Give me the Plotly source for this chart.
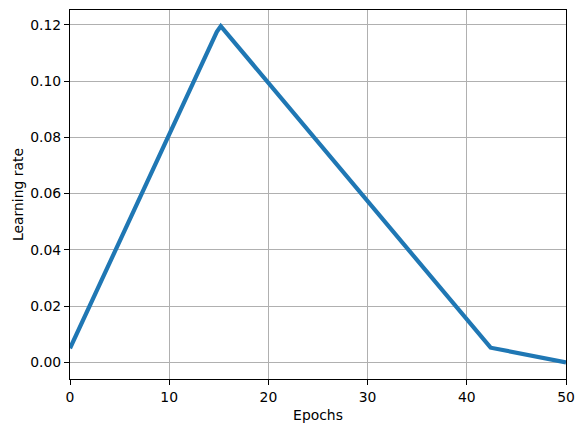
"""One-cycle learning rate schedule."""

import plotly.graph_objects as go

epochs = [0, 14.8, 15.2, 42.4, 50]
learning_rate = [0.0050, 0.1175, 0.1195, 0.0052, 0.0]

x_ticks = [0, 10, 20, 30, 40, 50]
y_ticks = [0.00, 0.02, 0.04, 0.06, 0.08, 0.10, 0.12]


def main():
    fig = go.Figure()
    fig.add_trace(go.Scatter(
        x=epochs, y=learning_rate, mode="lines",
        line=dict(color="#1f77b4", width=4.2),
        showlegend=False
    ))

    axis_style = dict(
        showline=True, linecolor="black", linewidth=1.1, mirror=True,
        showgrid=True, gridcolor="#b0b0b0", gridwidth=1.1,
        ticks="outside", ticklen=5, tickwidth=1.1, tickcolor="black",
        zeroline=False,
        tickfont=dict(family="DejaVu Sans", size=13.9, color="black"),
    )
    fig.update_xaxes(
        range=[0, 50], tickvals=x_ticks,
        title=dict(text="Epochs", standoff=6,
                   font=dict(family="DejaVu Sans", size=13.9, color="black")),
        **axis_style
    )
    fig.update_yaxes(
        range=[-0.00593, 0.12525], tickvals=y_ticks, tickformat=".2f",
        title=dict(text="Learning rate", standoff=3,
                   font=dict(family="DejaVu Sans", size=13.9, color="black")),
        **axis_style
    )
    fig.update_layout(
        width=584, height=432,
        margin=dict(l=70, r=18, t=10, b=53, autoexpand=False),
        plot_bgcolor="white", paper_bgcolor="white",
    )
    # browser default body margin would shift the chart by 8px
    fig.write_html("out.html", config={"displayModeBar": False},
                   post_script="document.body.style.margin='0';")


if __name__ == "__main__":
    main()
